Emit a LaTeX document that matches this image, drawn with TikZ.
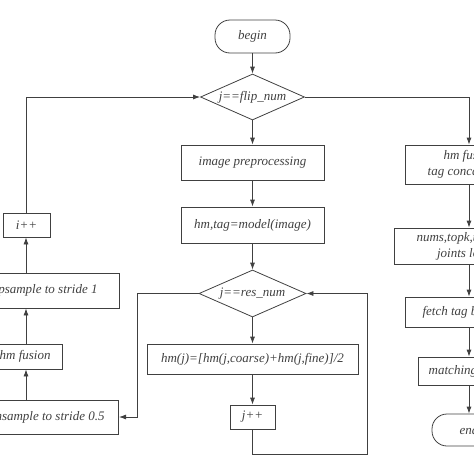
\documentclass[tikz,border=0pt]{standalone}
\usepackage{fontspec}
\setmainfont{Liberation Serif}
\usetikzlibrary{shapes.geometric,arrows.meta}
\definecolor{ink}{HTML}{404040}
\tikzset{
  box/.style={draw=ink, line width=0.8pt, rectangle, inner sep=0pt, font=\fontsize{13}{16}\selectfont\itshape, text=ink, align=center},
  term/.style={box, rounded corners=15pt},
  cond/.style={draw=ink, line width=0.8pt, diamond, aspect=2.26, inner sep=0pt, font=\fontsize{13}{16}\selectfont\itshape, text=ink},
  arr/.style={draw=ink, line width=0.8pt, -{Latex[length=7pt,width=5pt]}}
}
\begin{document}
\begin{tikzpicture}[x=1pt, y=-1pt]
  \useasboundingbox (0,0) rectangle (474,474);
  \clip (0,0) rectangle (474,474);

  % middle column
  \node[term, minimum width=75pt, minimum height=33pt] (begin) at (252.5,36.5) {begin};
  \node[cond, minimum width=104pt, minimum height=46pt] (flip) at (252.5,97) {j==flip\_num};
  \node[box, minimum width=143pt, minimum height=35pt] (prep) at (252.5,162.5) {image preprocessing};
  \node[box, minimum width=143pt, minimum height=36pt] (model) at (252.5,225) {hm,tag=model(image)};
  \node[cond, minimum width=107pt, minimum height=47pt] (res) at (252.5,293.5) {j==res\_num};
  \node[box, minimum width=211pt, minimum height=30pt] (avg) at (252.5,359) {hm(j)=[hm(j,coarse)+hm(j,fine)]/2};
  \node[box, minimum width=45pt, minimum height=24pt] (jinc) at (252.5,417) {j++};

  % left column
  \node[box, minimum width=47pt, minimum height=24pt] (iinc) at (26.5,225) {i++};
  \node[box, anchor=east, inner xsep=22pt, minimum height=35pt] (up1) at (120,290.5) {upsample to stride 1};
  \node[box, anchor=east, inner xsep=12pt, minimum height=25pt] (fuse) at (63,356.5) {hm fusion};
  \node[box, anchor=east, inner xsep=14pt, minimum height=34pt] (down) at (119,417) {downsample to stride 0.5};

  % right column
  \node[box, minimum width=128pt, minimum height=39pt] (cat) at (469,164.5) {hm fusion\\tag concatenate};
  \node[box, minimum width=150pt, minimum height=36pt] (loc) at (469,246) {nums,topk,threshold\\joints locate};
  \node[box, minimum width=128pt, minimum height=30pt] (fetch) at (469,312) {fetch tag by joints};
  \node[box, minimum width=102pt, minimum height=28pt] (match) at (469,371) {matching joints};
  \node[term, minimum width=74pt, minimum height=32pt] (end) at (469,430) {end};

  \coordinate (colL) at (26,0);
  \coordinate (colR) at (469,0);
  \coordinate (loopB) at (367,454);
  \coordinate (jmpL) at (137,0);

  \draw[arr] (begin) -- (flip);
  \draw[arr] (flip) -- (prep);
  \draw[arr] (prep) -- (model);
  \draw[arr] (model) -- (res);
  \draw[arr] (res) -- (avg);
  \draw[arr] (avg) -- (jinc);
  \draw[arr] (jinc.south) |- (loopB) |- (res.east);
  \draw[arr] (res.west) -| (jmpL |- down.east) -- (down.east);

  \draw[arr] (down.north -| colL) -- (fuse.south -| colL);
  \draw[arr] (fuse.north -| colL) -- (up1.south -| colL);
  \draw[arr] (up1.north -| colL) -- (iinc.south -| colL);
  \draw[arr] (iinc.north -| colL) |- (flip.west);

  \draw[arr] (flip.east) -| (cat.north -| colR);
  \draw[arr] (cat) -- (loc);
  \draw[arr] (loc) -- (fetch);
  \draw[arr] (fetch) -- (match);
  \draw[arr] (match) -- (end);
\end{tikzpicture}
\end{document}
